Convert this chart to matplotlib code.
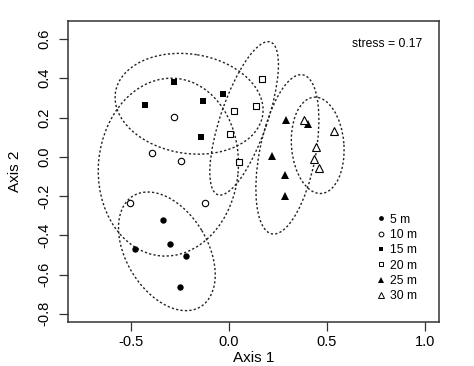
import numpy as np
import matplotlib.pyplot as plt
from matplotlib.patches import Ellipse
from matplotlib.lines import Line2D
from matplotlib.ticker import FormatStrFormatter

plt.rcParams['font.family'] = ['Liberation Sans', 'DejaVu Sans']

# NMDS scores, one array per depth
depths = ["5 m", "10 m", "15 m", "20 m", "25 m", "30 m"]
ax1_5m = [-0.338, -0.301, -0.477, -0.218, -0.250]
ax2_5m = [-0.323, -0.444, -0.469, -0.508, -0.665]
ax1_10m = [-0.281, -0.393, -0.245, -0.505, -0.122]
ax2_10m = [0.204, 0.020, -0.022, -0.233, -0.233]
ax1_15m = [-0.281, -0.429, -0.134, -0.031, -0.143]
ax2_15m = [0.383, 0.264, 0.283, 0.320, 0.101]
ax1_20m = [0.167, 0.138, 0.026, 0.004, 0.051]
ax2_20m = [0.398, 0.260, 0.232, 0.115, -0.026]
ax1_25m = [0.291, 0.403, 0.221, 0.287, 0.287]
ax2_25m = [0.186, 0.165, 0.006, -0.095, -0.200]
ax1_30m = [0.385, 0.537, 0.445, 0.435, 0.460]
ax2_30m = [0.186, 0.129, 0.049, -0.013, -0.059]
stress = 0.17

xticks = [-0.5, 0.0, 0.5, 1.0]
yticks = [-0.8, -0.6, -0.4, -0.2, 0.0, 0.2, 0.4, 0.6]

groups = [(ax1_5m, ax2_5m), (ax1_10m, ax2_10m), (ax1_15m, ax2_15m),
          (ax1_20m, ax2_20m), (ax1_25m, ax2_25m), (ax1_30m, ax2_30m)]
# marker, filled?, size (R pch 16, 1, 15, 0, 17, 2)
styles = [("o", True, 4.6), ("o", False, 4.6), ("s", True, 4.4),
          ("s", False, 4.4), ("^", True, 5.4), ("^", False, 5.4)]

fig = plt.figure(figsize=(4.74, 3.66), dpi=100)
ax = fig.add_axes([68 / 474, 1 - 322 / 366, 371 / 474, 301 / 366])

# 95% sd ellipses, as ordiellipse(kind="sd", conf=0.95)
k = np.sqrt(-2 * np.log(0.05))
for x, y in groups:
    x = np.array(x)
    y = np.array(y)
    cov = np.cov(x, y)
    vals, vecs = np.linalg.eigh(cov)
    ang = np.degrees(np.arctan2(vecs[1, 1], vecs[0, 1]))
    ell = Ellipse((x.mean(), y.mean()), 2 * k * np.sqrt(vals[1]), 2 * k * np.sqrt(vals[0]),
                  angle=ang, fill=False, ec="#222222", lw=1.0, ls=(0, (1.6, 1.6)))
    ax.add_patch(ell)

handles = []
for (x, y), (m, filled, ms), lab in zip(groups, styles, depths):
    fc = "black" if filled else "white"
    ax.plot(x, y, ls="none", marker=m, ms=ms, mfc=fc, mec="black",
            mew=0 if filled else 0.8, zorder=3)
    handles.append(Line2D([], [], ls="none", marker=m, ms=ms * 0.75, mfc=fc,
                          mec="black", mew=0 if filled else 0.7, label=lab))

ax.set_xlim(-0.821, 1.071)
ax.set_ylim(-0.842, 0.692)
ax.set_xticks(xticks)
ax.set_yticks(yticks)
ax.xaxis.set_major_formatter(FormatStrFormatter("%.1f"))
ax.yaxis.set_major_formatter(FormatStrFormatter("%.1f"))
ax.tick_params(axis="both", direction="out", length=6.5, width=0.9, color="#333333",
               labelsize=10.5)
ax.tick_params(axis="x", pad=3)
ax.tick_params(axis="y", pad=5.5)
for lbl in ax.get_yticklabels():
    lbl.set_rotation(90)
    lbl.set_va("center")
for s in ax.spines.values():
    s.set_color("#333333")
    s.set_linewidth(1.1)

ax.set_xlabel("Axis 1", fontsize=11)
ax.set_ylabel("Axis 2", fontsize=11)
ax.xaxis.set_label_coords(0.5, -0.098)
ax.yaxis.set_label_coords(-0.125, 0.5)

ax.text(0.954, 0.923, f"stress = {stress}", transform=ax.transAxes,
        ha="right", va="center", fontsize=8.7)

ax.legend(handles=handles, loc="lower right", bbox_to_anchor=(0.94, 0.065),
          frameon=False, fontsize=8.7, handlelength=0.6, handletextpad=0.4,
          labelspacing=0.28, borderpad=0, borderaxespad=0)

fig.savefig("out.png", dpi=100)
